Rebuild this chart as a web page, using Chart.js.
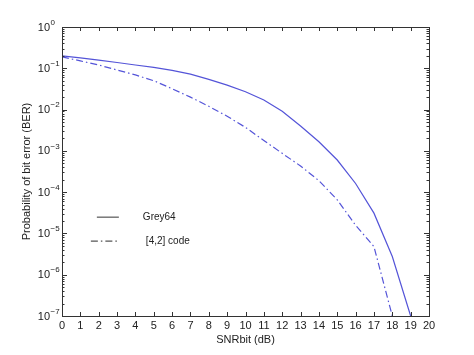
<!DOCTYPE html>
<html>
<head>
<meta charset="utf-8">
<script src="https://cdn.jsdelivr.net/npm/chart.js@4/dist/chart.umd.min.js"></script>
<style>
  html, body { margin: 0; padding: 0; background: #ffffff; }
  #wrap { width: 474px; height: 355px; }
</style>
</head>
<body>
<div id="wrap"><canvas id="c" width="474" height="355"></canvas></div>
<script>
// ---- data ----
const snrGrey64 = [0,1,2,3,4,5,6,7,8,9,10,11,12,13,14,15,16,17,18,19];
const berGrey64 = [2.0e-1,1.78e-1,1.58e-1,1.38e-1,1.2e-1,1.05e-1,8.9e-2,7.2e-2,5.4e-2,3.9e-2,
                   2.7e-2,1.7e-2,9.1e-3,4.0e-3,1.66e-3,6.0e-4,1.62e-4,3.1e-5,2.75e-6,1.0e-7];
const snrCode42 = [0,1,2,3,4,5,6,7,8,9,10,11,12,13,14,15,16,17,18];
const berCode42 = [1.9e-1,1.51e-1,1.2e-1,9.1e-2,6.9e-2,5.0e-2,3.2e-2,2.0e-2,1.2e-2,6.9e-3,
                   3.7e-3,1.78e-3,8.7e-4,4.3e-4,1.9e-4,6.5e-5,1.58e-5,4.8e-6,1.0e-7];
const seriesNames = ['Grey64', '[4,2] code'];
const xTicks = [0,1,2,3,4,5,6,7,8,9,10,11,12,13,14,15,16,17,18,19,20];
const yDecades = [-7,-6,-5,-4,-3,-2,-1,0];
const xTitle = 'SNRbit (dB)';
const yTitle = 'Probability of bit error (BER)';

const FONT = "'Liberation Sans', 'DejaVu Sans', Arial, sans-serif";
const LINE = '#5454d8';
const AXIS = '#333333';
const TEXT = '#222222';
const DASH = [7, 3, 1.5, 3];

const ds1 = snrGrey64.map((x, i) => ({x, y: berGrey64[i]}));
const ds2 = snrCode42.map((x, i) => ({x, y: berCode42[i]}));

const frameAndTicks = {
  id: 'frameAndTicks',
  afterDraw(chart) {
    const {ctx, chartArea: a, scales} = chart;
    const xs = scales.x, ys = scales.y;
    ctx.save();
    ctx.strokeStyle = AXIS;
    ctx.lineWidth = 1;
    ctx.beginPath();
    xTicks.forEach(v => {
      const px = Math.round(xs.getPixelForValue(v)) + 0.5;
      ctx.moveTo(px, a.bottom); ctx.lineTo(px, a.bottom - 4);
      ctx.moveTo(px, a.top); ctx.lineTo(px, a.top + 4);
    });
    ys.ticks.forEach(t => {
      const py = Math.round(ys.getPixelForValue(t.value)) + 0.5;
      const isMajor = Math.abs(Math.log10(t.value) - Math.round(Math.log10(t.value))) < 1e-9;
      const len = isMajor ? 5 : 2.5;
      ctx.moveTo(a.left, py); ctx.lineTo(a.left + len, py);
      ctx.moveTo(a.right, py); ctx.lineTo(a.right - len, py);
    });
    ctx.stroke();
    ctx.strokeRect(Math.round(a.left) + 0.5, Math.round(a.top) + 0.5,
                   Math.round(a.right - a.left), Math.round(a.bottom - a.top));
    // y tick labels with superscript exponents
    ctx.fillStyle = TEXT;
    ctx.textBaseline = 'middle';
    yDecades.forEach(k => {
      const py = ys.getPixelForValue(Math.pow(10, k));
      const bx = a.left - 12;
      ctx.font = '11px ' + FONT;
      ctx.textAlign = 'right';
      ctx.fillText('10', bx, py + 0.5);
      ctx.font = '8px ' + FONT;
      ctx.textAlign = 'left';
      ctx.fillText(k < 0 ? '\u2212' + (-k) : String(k), bx + 0.5, py - 4.5);
    });
    // legend inside plot area
    const lx0 = a.left + (a.right - a.left) * 0.095;
    const lx1 = lx0 + 22;
    const tx = lx0 + 46;
    const ly1 = a.top + (a.bottom - a.top) * 0.658;
    const ly2 = ly1 + 24;
    ctx.strokeStyle = '#555555';
    ctx.lineWidth = 1.2;
    ctx.setLineDash([]);
    ctx.beginPath(); ctx.moveTo(lx0, ly1); ctx.lineTo(lx1, ly1); ctx.stroke();
    ctx.setLineDash(DASH);
    ctx.beginPath(); ctx.moveTo(lx0 - 6, ly2); ctx.lineTo(lx1, ly2); ctx.stroke();
    ctx.setLineDash([]);
    ctx.fillStyle = TEXT;
    ctx.font = '10px ' + FONT;
    ctx.textBaseline = 'middle';
    ctx.textAlign = 'left';
    ctx.fillText(seriesNames[0], tx, ly1);
    ctx.fillText(seriesNames[1], tx + 3, ly2);
    ctx.restore();
  }
};

new Chart(document.getElementById('c'), {
  type: 'line',
  data: {
    datasets: [
      { label: seriesNames[0], data: ds1, borderColor: LINE, borderWidth: 1.2,
        pointRadius: 0, tension: 0, fill: false },
      { label: seriesNames[1], data: ds2, borderColor: LINE, borderWidth: 1.2,
        borderDash: DASH, pointRadius: 0, tension: 0, fill: false }
    ]
  },
  options: {
    responsive: false,
    animation: false,
    events: [],
    layout: { padding: { left: 0, right: 45, top: 27, bottom: 0 } },
    plugins: { legend: { display: false }, tooltip: { enabled: false } },
    scales: {
      x: {
        type: 'linear', min: 0, max: 20,
        afterBuildTicks: s => { s.ticks = xTicks.map(v => ({value: v})); },
        afterFit: s => { s.height = 39; },
        grid: { display: false, drawTicks: false },
        border: { display: false },
        ticks: { color: TEXT, font: { family: FONT, size: 11 }, padding: 3,
                 maxRotation: 0, autoSkip: false, callback: v => String(v) },
        title: { display: true, text: xTitle, color: TEXT,
                 font: { family: FONT, size: 11 }, padding: { top: 0, bottom: 8 } }
      },
      y: {
        type: 'logarithmic', min: 1e-7, max: 1,
        afterBuildTicks: s => {
          const t = [];
          yDecades.forEach(k => {
            if (k === 0) { t.push({value: 1}); return; }
            for (let m = 1; m <= 9; m++) t.push({value: m * Math.pow(10, k)});
          });
          s.ticks = t;
        },
        afterFit: s => { s.width = 62; },
        grid: { display: false, drawTicks: false },
        border: { display: false },
        ticks: { display: true, padding: 6, autoSkip: false, callback: () => '' },
        title: { display: true, text: yTitle, color: TEXT,
                 font: { family: FONT, size: 11 }, padding: { top: 20, bottom: 0 } }
      }
    }
  },
  plugins: [frameAndTicks]
});
</script>
</body>
</html>
